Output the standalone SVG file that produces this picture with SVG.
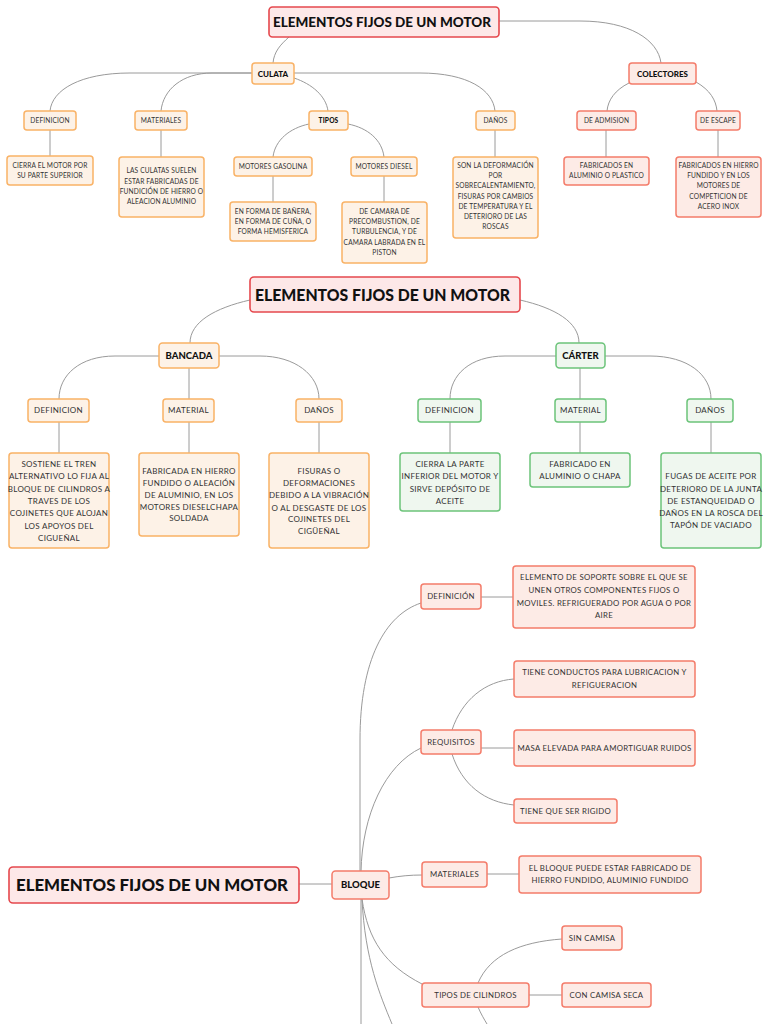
<svg xmlns="http://www.w3.org/2000/svg" width="768" height="1024" viewBox="0 0 768 1024">
<style>
.bg{fill:#ffffff}
.title rect{fill:#fde8e8;stroke:#e5484d;stroke-width:1.6}
.o rect{fill:#fdf2e7;stroke:#f9b266;stroke-width:1.5}
.r rect{fill:#fdebe6;stroke:#f47c6a;stroke-width:1.5}
.g rect{fill:#eff7ef;stroke:#6cc47a;stroke-width:1.5}
text{font-family:Lato,"Open Sans","Liberation Sans",sans-serif;text-anchor:middle;fill:#333}
.t{font-weight:900;fill:#111}
.b{font-weight:900;fill:#111}
.s1{font-size:6.6px;letter-spacing:0.15px}
.s2{font-size:8px;letter-spacing:0.3px}
.s3{font-size:7.8px;letter-spacing:0.3px}
#connectors path{fill:none;stroke:#9a9a9a;stroke-width:1}
</style>
<rect class="bg" x="0" y="0" width="768" height="1024"/>
<g id="connectors">
<path d="M289,37 C280,45 274,52 273,63"/>
<path d="M499,21 H580 C630,21 658,40 661,63"/>
<path d="M252,73 H130 C80,73 52,90 50,111"/>
<path d="M252,73 H212 C182,73 163,90 161,111"/>
<path d="M294,78 C312,84 326,96 328,111"/>
<path d="M294,73 H420 C468,73 493,90 495,111"/>
<path d="M309,124 C290,128 275,140 273,157"/>
<path d="M348,124 C368,128 382,140 384,157"/>
<path d="M629,83 C615,90 608,100 607,111"/>
<path d="M696,82 C710,90 716,100 717,111"/>
<path d="M50,130 V156"/>
<path d="M161,130 V157"/>
<path d="M273,176 V202"/>
<path d="M384,176 V202"/>
<path d="M495,130 V157"/>
<path d="M606,130 V157"/>
<path d="M718,130 V157"/>
<path d="M250,300 C215,308 190,322 190,343"/>
<path d="M520,300 C555,308 579,322 579,343"/>
<path d="M159,356 H115 C80,356 59,375 59,399"/>
<path d="M189,368 V399"/>
<path d="M219,356 H260 C295,356 319,375 319,399"/>
<path d="M556,356 H505 C470,356 450,375 450,399"/>
<path d="M580,368 V399"/>
<path d="M605,356 H650 C688,356 711,375 711,399"/>
<path d="M59,422 V453"/>
<path d="M189,422 V453"/>
<path d="M319,422 V453"/>
<path d="M450,422 V453"/>
<path d="M580,422 V453"/>
<path d="M711,422 V453"/>
<path d="M299,884 H332"/>
<path d="M360,872 V740 C360,660 385,615 421,603"/>
<path d="M361,872 C362,815 385,765 421,748"/>
<path d="M389,878 C400,876 410,875 422,875"/>
<path d="M361,899 V1024"/>
<path d="M362,899 C368,940 385,965 422,984"/>
<path d="M362,899 C365,960 380,995 392,1024"/>
<path d="M481,597 H513"/>
<path d="M452,730 C462,700 485,681 514,679"/>
<path d="M481,748 H514"/>
<path d="M452,754 C462,785 485,802 514,805"/>
<path d="M487,874 H519"/>
<path d="M478,983 C490,955 520,942 562,939"/>
<path d="M529,995 H562"/>
<path d="M478,1007 C481,1014 484,1019 487,1024"/>
</g>

<g id="title1" class="title"><rect x="269" y="7" width="230" height="30" rx="3.5"/><text class="t" x="382" y="27" font-size="14" textLength="218" lengthAdjust="spacingAndGlyphs">ELEMENTOS FIJOS DE UN MOTOR</text></g>
<g id="culata" class="o"><rect x="252" y="63" width="42" height="21" rx="3"/><text class="b" x="273" y="76.5" font-size="8">CULATA</text></g>
<g id="colectores" class="r"><rect x="629" y="63" width="67" height="21" rx="3"/><text class="b" x="662.5" y="76.5" font-size="8">COLECTORES</text></g>
<g id="culata-def" class="o"><rect x="24" y="111" width="52" height="19" rx="3"/><text class="s1" x="50" y="122.8">DEFINICION</text></g>
<g id="culata-mat" class="o"><rect x="135" y="111" width="52" height="19" rx="3"/><text class="s1" x="161" y="122.8">MATERIALES</text></g>
<g id="culata-tipos" class="o"><rect x="309" y="111" width="39" height="19" rx="3"/><text class="b s1" x="328.5" y="122.8">TIPOS</text></g>
<g id="culata-danos" class="o"><rect x="476" y="111" width="39" height="19" rx="3"/><text class="s1" x="495.5" y="122.8">DAÑOS</text></g>
<g id="col-admision" class="r"><rect x="577" y="111" width="59" height="19" rx="3"/><text class="s1" x="606.5" y="122.8">DE ADMISION</text></g>
<g id="col-escape" class="r"><rect x="696" y="111" width="44" height="19" rx="3"/><text class="s1" x="718" y="122.8">DE ESCAPE</text></g>
<g id="culata-def-leaf" class="o"><rect x="7" y="156" width="86" height="29" rx="3"/><text class="s1"><tspan x="50" y="168.3">CIERRA EL MOTOR POR</tspan><tspan x="50" y="178.3">SU PARTE SUPERIOR</tspan></text></g>
<g id="culata-mat-leaf" class="o"><rect x="119" y="157" width="85" height="60" rx="3"/><text class="s1"><tspan x="161.5" y="173.3">LAS CULATAS SUELEN</tspan><tspan x="161.5" y="183.5">ESTAR FABRICADAS DE</tspan><tspan x="161.5" y="193.7">FUNDICIÓN DE HIERRO O</tspan><tspan x="161.5" y="204">ALEACION  ALUMINIO</tspan></text></g>
<g id="mot-gasolina" class="o"><rect x="234" y="157" width="78" height="19" rx="3"/><text class="s1" x="273" y="168.8">MOTORES GASOLINA</text></g>
<g id="mot-diesel" class="o"><rect x="351" y="157" width="66" height="19" rx="3"/><text class="s1" x="384" y="168.8">MOTORES DIESEL</text></g>
<g id="gasolina-leaf" class="o"><rect x="230" y="202" width="86" height="39" rx="3"/><text class="s1"><tspan x="273" y="214">EN FORMA DE BAÑERA,</tspan><tspan x="273" y="224">EN FORMA DE CUÑA, O</tspan><tspan x="273" y="234">FORMA HEMISFERICA</tspan></text></g>
<g id="diesel-leaf" class="o"><rect x="342" y="202" width="85" height="61" rx="3"/><text class="s1"><tspan x="384.5" y="214">DE CAMARA DE</tspan><tspan x="384.5" y="224.2">PRECOMBUSTION, DE</tspan><tspan x="384.5" y="234.4">TURBULENCIA, Y DE</tspan><tspan x="384.5" y="244.6">CAMARA LABRADA EN EL</tspan><tspan x="384.5" y="254.8">PISTON</tspan></text></g>
<g id="danos-leaf" class="o"><rect x="453" y="157" width="85" height="81" rx="3"/><text class="s1"><tspan x="495.5" y="168">SON LA DEFORMACIÓN</tspan><tspan x="495.5" y="178.2">POR</tspan><tspan x="495.5" y="188.4">SOBRECALENTAMIENTO,</tspan><tspan x="495.5" y="198.6">FISURAS POR CAMBIOS</tspan><tspan x="495.5" y="208.8">DE TEMPERATURA Y EL</tspan><tspan x="495.5" y="219">DETERIORO DE LAS</tspan><tspan x="495.5" y="229.2">ROSCAS</tspan></text></g>
<g id="admision-leaf" class="r"><rect x="564" y="157" width="85" height="28" rx="3"/><text class="s1"><tspan x="606.5" y="168">FABRICADOS EN</tspan><tspan x="606.5" y="178.3">ALUMINIO O PLASTICO</tspan></text></g>
<g id="escape-leaf" class="r"><rect x="676" y="157" width="85" height="60" rx="3"/><text class="s1"><tspan x="718.5" y="168">FABRICADOS EN HIERRO</tspan><tspan x="718.5" y="178.2">FUNDIDO Y EN LOS</tspan><tspan x="718.5" y="188.4">MOTORES DE</tspan><tspan x="718.5" y="198.6">COMPETICION DE</tspan><tspan x="718.5" y="208.8">ACERO INOX</tspan></text></g>

<g id="title2" class="title"><rect x="250" y="277" width="270" height="35" rx="4"/><text class="t" x="382.5" y="300.5" font-size="16.5" textLength="255" lengthAdjust="spacingAndGlyphs">ELEMENTOS FIJOS DE UN MOTOR</text></g>
<g id="bancada" class="o"><rect x="159" y="343" width="60" height="25" rx="3.5"/><text class="b" x="189" y="358.8" font-size="9.5">BANCADA</text></g>
<g id="carter" class="g"><rect x="556" y="343" width="49" height="25" rx="3.5"/><text class="b" x="580.5" y="358.8" font-size="9.5">CÁRTER</text></g>
<g id="banc-def" class="o"><rect x="28" y="399" width="61" height="23" rx="3"/><text class="s2" x="58.5" y="413.2">DEFINICION</text></g>
<g id="banc-mat" class="o"><rect x="163" y="399" width="51" height="23" rx="3"/><text class="s2" x="188.5" y="413.2">MATERIAL</text></g>
<g id="banc-danos" class="o"><rect x="296" y="399" width="46" height="23" rx="3"/><text class="s2" x="319" y="413.2">DAÑOS</text></g>
<g id="banc-def-leaf" class="o"><rect x="9" y="453" width="100" height="95" rx="3"/><text class="s2"><tspan x="59" y="467">SOSTIENE EL TREN</tspan><tspan x="59" y="479.3">ALTERNATIVO LO FIJA AL</tspan><tspan x="59" y="491.6">BLOQUE DE CILINDROS A</tspan><tspan x="59" y="503.9">TRAVES DE LOS</tspan><tspan x="59" y="516.2">COJINETES QUE ALOJAN</tspan><tspan x="59" y="528.5">LOS APOYOS DEL</tspan><tspan x="59" y="540.8">CIGUEÑAL</tspan></text></g>
<g id="banc-mat-leaf" class="o"><rect x="139" y="453" width="100" height="83" rx="3"/><text class="s2"><tspan x="189" y="474.4">FABRICADA EN HIERRO</tspan><tspan x="189" y="486.1">FUNDIDO O ALEACIÓN</tspan><tspan x="189" y="497.8">DE ALUMINIO, EN LOS</tspan><tspan x="189" y="509.5">MOTORES DIESELCHAPA</tspan><tspan x="189" y="521.2">SOLDADA</tspan></text></g>
<g id="banc-danos-leaf" class="o"><rect x="269" y="453" width="100" height="95" rx="3"/><text class="s2"><tspan x="319" y="473.8">FISURAS O</tspan><tspan x="319" y="486.1">DEFORMACIONES</tspan><tspan x="319" y="498.4">DEBIDO A LA VIBRACIÓN</tspan><tspan x="319" y="510.7">O AL DESGASTE DE LOS</tspan><tspan x="319" y="522.2">COJINETES DEL</tspan><tspan x="319" y="533.8">CIGÜEÑAL</tspan></text></g>
<g id="cart-def" class="g"><rect x="418" y="399" width="63" height="23" rx="3"/><text class="s2" x="449.5" y="413.2">DEFINICION</text></g>
<g id="cart-mat" class="g"><rect x="555" y="399" width="51" height="23" rx="3"/><text class="s2" x="580.5" y="413.2">MATERIAL</text></g>
<g id="cart-danos" class="g"><rect x="687" y="399" width="46" height="23" rx="3"/><text class="s2" x="710" y="413.2">DAÑOS</text></g>
<g id="cart-def-leaf" class="g"><rect x="400" y="453" width="100" height="58" rx="3"/><text class="s2"><tspan x="450" y="467">CIERRA LA PARTE</tspan><tspan x="450" y="479.4">INFERIOR DEL MOTOR Y</tspan><tspan x="450" y="491.8">SIRVE DEPÓSITO DE</tspan><tspan x="450" y="503.5">ACEITE</tspan></text></g>
<g id="cart-mat-leaf" class="g"><rect x="530" y="453" width="100" height="34" rx="3"/><text class="s2"><tspan x="580" y="466.8">FABRICADO EN</tspan><tspan x="580" y="478.8">ALUMINIO O CHAPA</tspan></text></g>
<g id="cart-danos-leaf" class="g"><rect x="661" y="453" width="100" height="95" rx="3"/><text class="s2"><tspan x="711" y="479.4">FUGAS DE ACEITE POR</tspan><tspan x="711" y="491.7">DETERIORO DE LA JUNTA</tspan><tspan x="711" y="504">DE ESTANQUEIDAD O</tspan><tspan x="711" y="516.2">DAÑOS EN LA ROSCA DEL</tspan><tspan x="711" y="528">TAPÓN DE VACIADO</tspan></text></g>

<g id="title3" class="title"><rect x="9" y="867" width="290" height="36" rx="4"/><text class="t" x="152" y="891.3" font-size="17.5" textLength="272" lengthAdjust="spacingAndGlyphs">ELEMENTOS FIJOS DE UN MOTOR</text></g>
<g id="bloque" class="r"><rect x="332" y="871" width="57" height="28" rx="3.5"/><text class="b" x="360.5" y="888.3" font-size="9.5">BLOQUE</text></g>
<g id="bloq-def" class="r"><rect x="421" y="584" width="60" height="25" rx="3"/><text class="s3" x="451" y="599.2">DEFINICIÓN</text></g>
<g id="bloq-def-leaf" class="r"><rect x="513" y="566" width="182" height="62" rx="3"/><text class="s3"><tspan x="604" y="579.6">ELEMENTO DE SOPORTE SOBRE EL QUE SE</tspan><tspan x="604" y="592.6">UNEN OTROS COMPONENTES FIJOS O</tspan><tspan x="604" y="605.6">MOVILES. REFRIGUERADO POR AGUA O POR</tspan><tspan x="604" y="618.4">AIRE</tspan></text></g>
<g id="bloq-req" class="r"><rect x="421" y="730" width="60" height="24" rx="3"/><text class="s3" x="451" y="744.7">REQUISITOS</text></g>
<g id="req-1" class="r"><rect x="514" y="661" width="181" height="36" rx="3"/><text class="s3"><tspan x="604.5" y="675">TIENE CONDUCTOS PARA LUBRICACION Y</tspan><tspan x="604.5" y="687.7">REFIGUERACION</tspan></text></g>
<g id="req-2" class="r"><rect x="514" y="730" width="181" height="36" rx="3"/><text class="s3" x="604.5" y="750.7">MASA ELEVADA PARA AMORTIGUAR RUIDOS</text></g>
<g id="req-3" class="r"><rect x="514" y="799" width="103" height="24" rx="3"/><text class="s3" x="565.5" y="813.7">TIENE QUE SER RIGIDO</text></g>
<g id="bloq-mat" class="r"><rect x="422" y="862" width="65" height="25" rx="3"/><text class="s3" x="454.5" y="877.2">MATERIALES</text></g>
<g id="bloq-mat-leaf" class="r"><rect x="519" y="856" width="182" height="37" rx="3"/><text class="s3"><tspan x="610" y="871">EL BLOQUE PUEDE ESTAR FABRICADO DE</tspan><tspan x="610" y="883.4">HIERRO FUNDIDO, ALUMINIO FUNDIDO</tspan></text></g>
<g id="sin-camisa" class="r"><rect x="562" y="926" width="60" height="24" rx="3"/><text class="s3" x="592" y="940.7">SIN CAMISA</text></g>
<g id="tipos-cil" class="r"><rect x="422" y="983" width="107" height="24" rx="3"/><text class="s3" x="475.5" y="997.7">TIPOS DE CILINDROS</text></g>
<g id="camisa-seca" class="r"><rect x="562" y="983" width="89" height="24" rx="3"/><text class="s3" x="606.5" y="997.7">CON CAMISA SECA</text></g>
</svg>
